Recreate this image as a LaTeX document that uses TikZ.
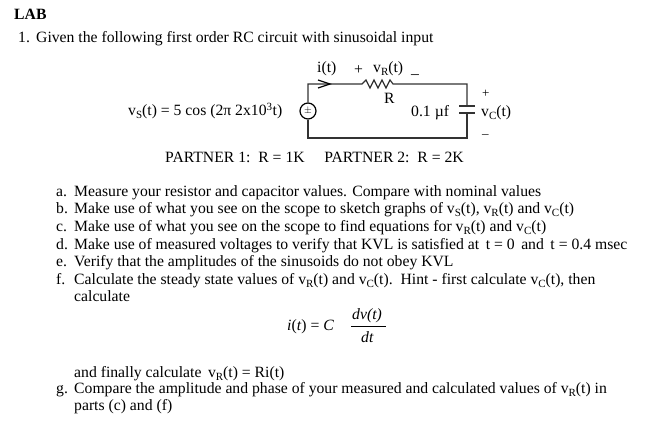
\documentclass[tikz,border=0pt]{standalone}
\usepackage{fontspec}
\setmainfont{Liberation Serif}
\newcommand{\vsub}[1]{\raisebox{-0.35ex}{\fontsize{11}{11}\selectfont #1}}
\begin{document}
\begin{tikzpicture}[x=1pt,y=-1pt,font=\fontsize{15.7}{18}\selectfont,
  tx/.style={anchor=base west,inner sep=0pt},
  wire/.style={line width=1.2pt,draw=black!80}]
\useasboundingbox (0,0) rectangle (659,427);
\node[tx,font=\fontsize{15.7}{18}\selectfont\bfseries] (lab) at (14,20) {LAB};
\node[tx] (n1) at (18,43) {1.};
\node[tx] (q1) at (36,43) {Given the following first order RC circuit with sinusoidal input};
% circuit
\coordinate (tl) at (308,84); \coordinate (tr) at (467,84);
\coordinate (bl) at (308,138); \coordinate (br) at (467,138);
\node[circle,draw,line width=1.2pt,minimum size=16pt,inner sep=0pt] (src) at (308,111) {};
\node[font=\normalsize,inner sep=0pt] (pm) at (308,111) {$\pm$};
\draw[wire] (src.north) -- (tl) -- (362,84) -- (366,80) -- (370,88) -- (374,80) -- (378,88) -- (382,80) -- (386,88) -- (390,80) -- (393,84) -- (tr) -- (467,106);
\draw[wire] (459,106) -- (475,106); \draw[wire] (459,113) -- (475,113);
\draw[wire] (467,113) -- (br) -- (bl) -- (src.south);
\draw[line width=1.2pt] (318,80) -- (330,84) -- (318,88);
\node[tx] (it) at (317,73) {i(t)};
\node[tx] (pl) at (354,75) {+};
\node[tx] (vr) at (373,73) {v\vsub{R}(t)};
\node[tx] (mi) at (411,74) {\_};
\node[tx] (R) at (384,104) {R};
\node[tx] (cap) at (411,117) {0.1 µf};
\node[tx] (vc) at (481,117) {v\vsub{C}(t)};
\node[tx,font=\fontsize{13}{13}\selectfont] (cp) at (482,98) {+};
\node[tx,font=\fontsize{13}{13}\selectfont] (cm) at (482,134) {\_};
\node[tx] (vs) at (128,116) {v\vsub{S}(t) = 5 cos (2π 2x10\textsuperscript{3}t)};
\node[tx] (pt) at (165,163) {PARTNER 1:\, R = 1K\quad\ PARTNER 2:\, R = 2K};
% list
\foreach \l/\y/\t in {a./197/{Measure your resistor and capacitor values. Compare with nominal values},
 b./214/{Make use of what you see on the scope to sketch graphs of v\vsub{S}(t), v\vsub{R}(t) and v\vsub{C}(t)},
 c./232/{Make use of what you see on the scope to find equations for v\vsub{R}(t) and v\vsub{C}(t)},
 d./250/{Make use of measured voltages to verify that KVL is satisfied at\, t = 0\, and\, t = 0.4 msec},
 e./267/{Verify that the amplitudes of the sinusoids do not obey KVL},
 f./285/{Calculate the steady state values of v\vsub{R}(t) and v\vsub{C}(t).\, Hint - first calculate v\vsub{C}(t), then},
 g./394/{Compare the amplitude and phase of your measured and calculated values of v\vsub{R}(t) in}}
 {\node[tx] at (56,\y) {\l}; \node[tx] at (74,\y) {\t};}
\node[tx] (calc) at (74,302) {calculate};
\node[tx] (eq) at (287,331) {\textit{i}(\textit{t}) = \textit{C}};
\node[tx,font=\fontsize{15.7}{18}\selectfont\itshape] (num) at (352,320) {dv(t)};
\node[tx,font=\fontsize{15.7}{18}\selectfont\itshape] (den) at (361,343) {dt};
\draw[line width=0.6pt] (351,326) -- (386,326);
\node[tx] (fin) at (74,378) {and finally calculate\,\ v\vsub{R}(t) = Ri(t)};
\node[tx] (parts) at (74,411) {parts (c) and (f)};
\end{tikzpicture}
\end{document}
